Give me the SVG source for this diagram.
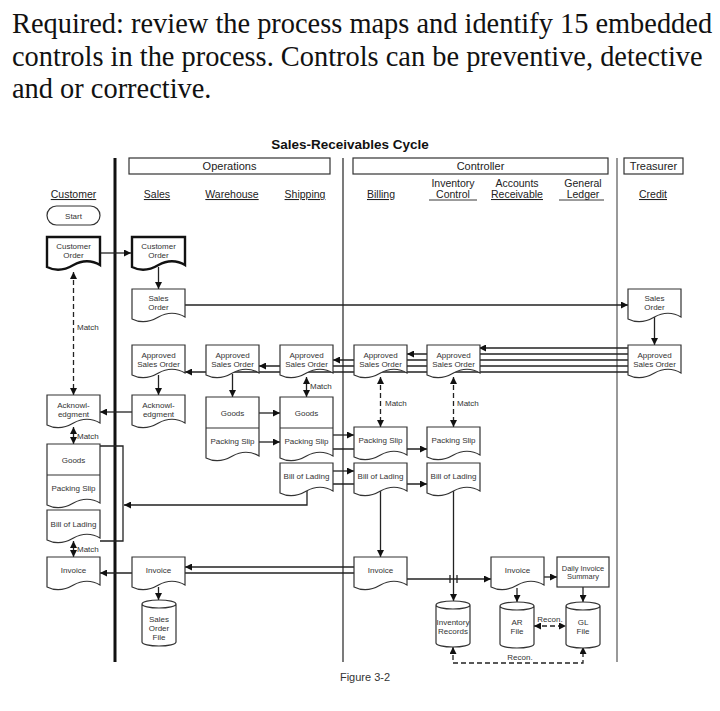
<svg xmlns="http://www.w3.org/2000/svg" width="720" height="711" viewBox="0 0 720 711">
<style>
.hdr{font-family:"Liberation Serif","Times New Roman",serif;font-size:28.4px;fill:#111}
.title{font-family:"Liberation Sans",Arial,sans-serif;font-size:13.5px;font-weight:bold;fill:#111}
.lane{font-family:"Liberation Sans",Arial,sans-serif;font-size:10.5px;fill:#222;text-anchor:middle}
.u{text-decoration:underline}
.box{fill:#fff;stroke:#333;stroke-width:1.2}
.grp{font-family:"Liberation Sans",Arial,sans-serif;font-size:11px;fill:#222;text-anchor:middle}
.nd{fill:#fff;stroke:#333;stroke-width:1.2}
.thick{fill:#fff;stroke:#111;stroke-width:2.4}
.t{font-family:"Liberation Sans",Arial,sans-serif;font-size:8px;fill:#333;text-anchor:middle}
.lbl{font-family:"Liberation Sans",Arial,sans-serif;font-size:8px;fill:#333}
.c{fill:none;stroke:#222;stroke-width:1.3}
.a{marker-end:url(#ah)}
.b{marker-start:url(#ah);marker-end:url(#ah)}
.d{stroke-dasharray:5,3}
</style>
<defs>
<marker id="ah" viewBox="0 0 10 10" refX="10" refY="5" markerWidth="7" markerHeight="7" markerUnits="userSpaceOnUse" orient="auto-start-reverse"><path d="M0,0 L10,5 L0,10 Z" fill="#111"/></marker>
<path id="doc" d="M0,0 H53 V28 C45,23 35,23 26.5,28 C18,33 8,34 0,30 Z"/>
<path id="doc2" d="M0,0 H53 V59 C45,54 35,54 26.5,59 C18,64 8,65 0,61 Z M0,31 H53"/>
<path id="cyl" d="M0,4 V42 A17,4 0 0 0 34,42 V4 A17,4 0 0 0 0,4 Z M0,4 A17,4 0 0 0 34,4"/>
</defs>
<rect width="720" height="711" fill="#fff"/>

<text class="hdr" x="12" y="33">Required: review the process maps and identify 15 embedded</text>
<text class="hdr" x="12" y="66">controls in the process. Controls can be preventive, detective</text>
<text class="hdr" x="12" y="98">and or corrective.</text>

<text class="title" x="350" y="149" text-anchor="middle">Sales-Receivables Cycle</text>

<g id="lanes">
<line x1="115" y1="158" x2="115" y2="662" stroke="#111" stroke-width="3"/>
<line x1="343" y1="158" x2="343" y2="662" stroke="#222" stroke-width="1.2"/>
<line x1="617" y1="158" x2="617" y2="662" stroke="#999" stroke-width="2"/>
<rect class="box" x="129" y="158" width="201" height="16"/>
<text class="grp" x="229.5" y="170">Operations</text>
<rect class="box" x="353" y="158" width="255" height="16"/>
<text class="grp" x="480.5" y="170">Controller</text>
<rect class="box" x="624" y="158" width="59" height="16"/>
<text class="grp" x="653.5" y="170">Treasurer</text>
<text class="lane u" x="73.5" y="198">Customer</text>
<text class="lane u" x="157" y="198">Sales</text>
<text class="lane u" x="232" y="198">Warehouse</text>
<text class="lane u" x="305" y="198">Shipping</text>
<text class="lane u" x="381" y="198">Billing</text>
<text class="lane" x="453" y="187">Inventory</text>
<text class="lane" x="453" y="198">Control</text>
<line x1="429" y1="200" x2="477" y2="200" stroke="#222" stroke-width="0.9"/>
<text class="lane" x="517" y="187">Accounts</text>
<text class="lane u" x="517" y="198">Receivable</text>
<text class="lane" x="583" y="187">General</text>
<text class="lane" x="583" y="198">Ledger</text>
<line x1="559" y1="200" x2="604" y2="200" stroke="#222" stroke-width="0.9"/>
<text class="lane u" x="653" y="198">Credit</text>
</g>

<g id="connectors">
<path class="c a" d="M100,253 H131"/>
<path class="c a" d="M158.5,267 V289"/>
<path class="c a" d="M185,305 H628"/>
<path class="c a" d="M654.5,317 V345"/>
<path class="c a" d="M628,348 H479"/>
<path class="c a" d="M628,354 H407"/>
<path class="c a" d="M628,360 H333"/>
<path class="c a" d="M628,366 H259"/>
<path class="c a" d="M628,372 H185"/>
<path class="c a" d="M158.5,375 V395"/>
<path class="c a" d="M232.5,374 V397"/>
<path class="c b" d="M306.5,377 V397"/>
<path class="c b d" d="M380.5,377 V427"/>
<path class="c b d" d="M453.5,377 V427"/>
<path class="c b d" d="M73.5,272 V395"/>
<path class="c a" d="M132,412 H100"/>
<path class="c b" d="M73.5,427 V444"/>
<path class="c b" d="M73.5,541 V557"/>
<path class="c a" d="M259,413 H280"/>
<path class="c a" d="M259,442 H280"/>
<path class="c a" d="M333,435 H354"/>
<path class="c a" d="M333,449 H427"/>
<path class="c a" d="M333,471 H354"/>
<path class="c a" d="M333,484 H427"/>
<path class="c a" d="M307,491 V505 H124"/>
<path class="c" d="M100,446 H123 V541 H100"/>
<path class="c a" d="M380.5,491 V557"/>
<path class="c a" d="M453.5,491 V601"/>
<path class="c a" d="M354,567 H185"/>
<path class="c a" d="M354,573 H100"/>
<path class="c a" d="M407,579 H491"/>
<path class="c" d="M450,575 V583 M457,575 V583"/>
<path class="c a" d="M158.5,587 V600"/>
<path class="c a" d="M543,577 H557"/>
<path class="c a" d="M517,588 V602"/>
<path class="c a" d="M583,587 V602"/>
<path class="c b d" d="M534,626 H566"/>
<path class="c b d" d="M453,647 V663 H583 V647"/>
<text class="lbl" x="77" y="330">Match</text>
<text class="lbl" x="77" y="439">Match</text>
<text class="lbl" x="77" y="552">Match</text>
<text class="lbl" x="310" y="389">Match</text>
<text class="lbl" x="385" y="406">Match</text>
<text class="lbl" x="457" y="406">Match</text>
<text class="lbl" x="550" y="622" text-anchor="middle">Recon.</text>
<text class="lbl" x="520" y="660" text-anchor="middle">Recon.</text>
</g>

<g id="start"><rect class="nd" x="47" y="206" width="53" height="19" rx="9.5"/><text class="t" x="73.5" y="218.5">Start</text></g>
<g id="cust_order"><use href="#doc" class="thick" x="47" y="237"/><text class="t" x="73.5" y="249">Customer</text><text class="t" x="73.5" y="258">Order</text></g>
<g id="cust_ack"><use href="#doc" class="nd" x="47" y="395"/><text class="t" x="73.5" y="408">Acknowl-</text><text class="t" x="73.5" y="417">edgment</text></g>
<g id="cust_goods"><use href="#doc2" class="nd" x="47" y="444"/><text class="t" x="73.5" y="462.5">Goods</text><text class="t" x="73.5" y="491">Packing Slip</text></g>
<g id="cust_bol"><use href="#doc" class="nd" x="47" y="510"/><text class="t" x="73.5" y="526.5">Bill of Lading</text></g>
<g id="cust_invoice"><use href="#doc" class="nd" x="47" y="557"/><text class="t" x="73.5" y="573">Invoice</text></g>

<g id="sales_cust_order"><use href="#doc" class="thick" x="132" y="237"/><text class="t" x="158.5" y="249">Customer</text><text class="t" x="158.5" y="258">Order</text></g>
<g id="sales_order"><use href="#doc" class="nd" x="132" y="289"/><text class="t" x="158.5" y="301">Sales</text><text class="t" x="158.5" y="310">Order</text></g>
<g id="sales_aso"><use href="#doc" class="nd" x="132" y="345"/><text class="t" x="158.5" y="358">Approved</text><text class="t" x="158.5" y="366.5">Sales Order</text></g>
<g id="sales_ack"><use href="#doc" class="nd" x="132" y="395"/><text class="t" x="158.5" y="408">Acknowl-</text><text class="t" x="158.5" y="417">edgment</text></g>
<g id="sales_invoice"><use href="#doc" class="nd" x="132" y="557"/><text class="t" x="158.5" y="573">Invoice</text></g>
<g id="sales_order_file"><use href="#cyl" class="nd" x="142" y="600"/><text class="t" x="159" y="622">Sales</text><text class="t" x="159" y="631">Order</text><text class="t" x="159" y="640">File</text></g>

<g id="wh_aso"><use href="#doc" class="nd" x="206" y="345"/><text class="t" x="232.5" y="358">Approved</text><text class="t" x="232.5" y="366.5">Sales Order</text></g>
<g id="wh_goods"><use href="#doc2" class="nd" x="206" y="397"/><text class="t" x="232.5" y="415.5">Goods</text><text class="t" x="232.5" y="444">Packing Slip</text></g>

<g id="sh_aso"><use href="#doc" class="nd" x="280" y="345"/><text class="t" x="306.5" y="358">Approved</text><text class="t" x="306.5" y="366.5">Sales Order</text></g>
<g id="sh_goods"><use href="#doc2" class="nd" x="280" y="397"/><text class="t" x="306.5" y="415.5">Goods</text><text class="t" x="306.5" y="444">Packing Slip</text></g>
<g id="sh_bol"><use href="#doc" class="nd" x="280" y="463"/><text class="t" x="306.5" y="479">Bill of Lading</text></g>

<g id="bi_aso"><use href="#doc" class="nd" x="354" y="345"/><text class="t" x="380.5" y="358">Approved</text><text class="t" x="380.5" y="366.5">Sales Order</text></g>
<g id="bi_ps"><use href="#doc" class="nd" x="354" y="427"/><text class="t" x="380.5" y="443">Packing Slip</text></g>
<g id="bi_bol"><use href="#doc" class="nd" x="354" y="463"/><text class="t" x="380.5" y="479">Bill of Lading</text></g>
<g id="bi_invoice"><use href="#doc" class="nd" x="354" y="557"/><text class="t" x="380.5" y="573">Invoice</text></g>

<g id="ic_aso"><use href="#doc" class="nd" x="427" y="345"/><text class="t" x="453.5" y="358">Approved</text><text class="t" x="453.5" y="366.5">Sales Order</text></g>
<g id="ic_ps"><use href="#doc" class="nd" x="427" y="427"/><text class="t" x="453.5" y="443">Packing Slip</text></g>
<g id="ic_bol"><use href="#doc" class="nd" x="427" y="463"/><text class="t" x="453.5" y="479">Bill of Lading</text></g>
<g id="inv_records"><use href="#cyl" class="nd" x="436" y="601"/><text class="t" x="453" y="625">Inventory</text><text class="t" x="453" y="633.5">Records</text></g>

<g id="ar_invoice"><use href="#doc" class="nd" x="491" y="557"/><text class="t" x="517.5" y="573">Invoice</text></g>
<g id="ar_file"><use href="#cyl" class="nd" x="500" y="602"/><text class="t" x="517" y="625">AR</text><text class="t" x="517" y="633.5">File</text></g>

<g id="dis"><rect class="nd" x="557" y="557" width="52" height="30"/><text class="t" x="583" y="571" style="font-size:7.5px">Daily Invoice</text><text class="t" x="583" y="579" style="font-size:7.5px">Summary</text></g>
<g id="gl_file"><use href="#cyl" class="nd" x="566" y="602"/><text class="t" x="583" y="625">GL</text><text class="t" x="583" y="633.5">File</text></g>

<g id="cr_so"><use href="#doc" class="nd" x="628" y="289"/><text class="t" x="654.5" y="301">Sales</text><text class="t" x="654.5" y="310">Order</text></g>
<g id="cr_aso"><use href="#doc" class="nd" x="628" y="345"/><text class="t" x="654.5" y="358">Approved</text><text class="t" x="654.5" y="366.5">Sales Order</text></g>

<text class="lbl" x="365" y="681" text-anchor="middle" style="font-size:11px">Figure 3-2</text>
</svg>
